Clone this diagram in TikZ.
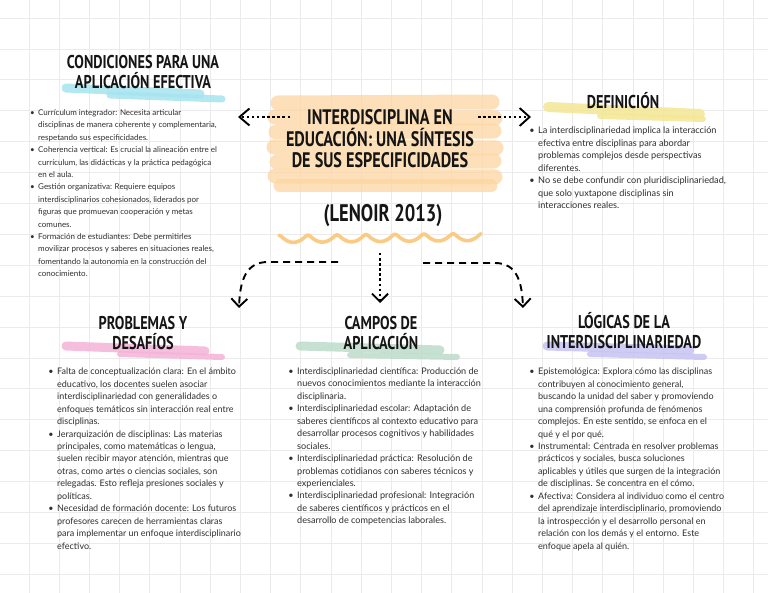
\documentclass[tikz,border=0pt]{standalone}
\usepackage{fontspec}
\usetikzlibrary{arrows.meta}
\setmainfont{Lato}
\newfontfamily\headfont[FakeStretch=0.77]{PT Sans}
\definecolor{gridc}{HTML}{EBEBEB}
\definecolor{bodyc}{HTML}{2F2F2F}
\definecolor{headc}{HTML}{151515}
\definecolor{orbg}{HTML}{FDD6A2}
\definecolor{orwave}{HTML}{FACB85}
\definecolor{bluehl}{HTML}{A6E4EF}
\definecolor{yelhl}{HTML}{F4E795}
\definecolor{pinkhl}{HTML}{F4B3D7}
\definecolor{greenhl}{HTML}{BDDCCA}
\definecolor{purphl}{HTML}{C6C2F3}
\newcommand\bu{\llap{\textbullet\hspace{3.5pt}}}
\begin{document}
\begin{tikzpicture}[x=1pt,y=-1pt,
  head/.style={font=\headfont\bfseries\fontsize{18.5}{20.5}\selectfont, align=center, text=headc, inner sep=0pt},
  titlef/.style={font=\headfont\bfseries\fontsize{21}{21.5}\selectfont, align=center, text=headc, inner sep=0pt},
  body/.style={font=\fontsize{9}{12.45}\selectfont, align=left, text=bodyc, inner sep=0pt, anchor=north west},
  hl/.style={line cap=round, opacity=0.85},
  conn/.style={line width=1.9pt, draw=black, -{Straight Barb[length=8pt,width=16pt]}},
  dotc/.style={conn, dash pattern=on 2.5pt off 2.6pt},
  dashc/.style={conn, dash pattern=on 7pt off 5pt}]
\useasboundingbox (0,0) rectangle (768,593);
\fill[white] (0,0) rectangle (768,593);
% grid
\foreach \k in {0,...,25} {\draw[gridc, line width=0.7pt] ({-1.2+30.2*\k},0) -- ({-1.2+30.2*\k},593);}
\foreach \k in {0,...,18} {\draw[gridc, line width=0.7pt] (0,{18+30.9*\k}) -- (768,{18+30.9*\k});}
% title background strokes
\begin{scope}[orbg, line cap=round, opacity=0.75]
\draw[line width=15pt] (278,103) -- (492,102);
\draw[line width=15pt] (275,117) -- (495,118);
\draw[line width=15pt] (276,132) -- (494,131);
\draw[line width=15pt] (274,147) -- (496,148);
\draw[line width=15pt] (277,162) -- (494,161);
\draw[line width=15pt] (275,176) -- (495,177);
\draw[line width=13pt] (280,186) -- (491,186);
\end{scope}
% wave under Lenoir
\draw[orwave, line width=3.6pt, line cap=round, line join=round]
  plot[domain=0:2500, samples=400, smooth] ({279 + 29/360*\x - 2*sin(\x)}, {239 - 3.5*cos(\x) - 0.0008*\x});
% highlights
\draw[bluehl, hl, line width=9pt] (66,88) -- (200,94);
\draw[bluehl, hl, line width=7pt] (110,95) -- (222,99);
\draw[yelhl, hl, line width=10pt] (548,107) -- (700,114);
\draw[yelhl, hl, line width=6pt] (600,116) -- (703,119);
\draw[pinkhl, hl, line width=9pt] (66,346) -- (205,351);
\draw[pinkhl, hl, line width=6pt] (120,354) -- (222,357);
\draw[greenhl, hl, line width=9pt] (300,346) -- (440,350);
\draw[greenhl, hl, line width=6pt] (350,355) -- (457,357);
\draw[purphl, hl, line width=9pt] (547,346) -- (690,350);
\draw[purphl, hl, line width=6pt] (590,354) -- (704,357);
% headings
\node[titlef, anchor=south] (title) at (380,168) {INTERDISCIPLINA EN\\EDUCACIÓN: UNA SÍNTESIS\\DE SUS ESPECIFICIDADES};
\node[titlef, font=\headfont\bfseries\fontsize{24}{25}\selectfont, anchor=base] (lenoir) at (383,222) {(LENOIR 2013)};
\node[head, anchor=south] (cond) at (143,89) {CONDICIONES PARA UNA\\APLICACIÓN EFECTIVA};
\node[head, anchor=south] (defi) at (623,109) {DEFINICIÓN};
\node[head, anchor=south] (prob) at (143,350) {PROBLEMAS Y\\DESAFÍOS};
\node[head, anchor=south] (camp) at (381,350) {CAMPOS DE\\APLICACIÓN};
\node[head, anchor=south] (logi) at (624,349) {LÓGICAS DE LA\\INTERDISCIPLINARIEDAD};
% bodies
\node[body, font=\fontsize{8}{12.4}\selectfont] (condb) at (38,109.5) {\bu Currículum integrador: Necesita articular\\
disciplinas de manera coherente y complementaria,\\
respetando sus especificidades.\\
\bu Coherencia vertical: Es crucial la alineación entre el\\
currículum, las didácticas y la práctica pedagógica\\
en el aula.\\
\bu Gestión organizativa: Requiere equipos\\
interdisciplinarios cohesionados, liderados por\\
figuras que promuevan cooperación y metas\\
comunes.\\
\bu Formación de estudiantes: Debe permitirles\\
movilizar procesos y saberes en situaciones reales,\\
fomentando la autonomía en la construcción del\\
conocimiento.};
\node[body, font=\fontsize{9.15}{12.45}\selectfont] (defib) at (538,127) {\bu La interdisciplinariedad implica la interacción\\
efectiva entre disciplinas para abordar\\
problemas complejos desde perspectivas\\
diferentes.\\
\bu No se debe confundir con pluridisciplinariedad,\\
que solo yuxtapone disciplinas sin\\
interacciones reales.};
\node[body] (probb) at (57,368) {\bu Falta de conceptualización clara: En el ámbito\\
educativo, los docentes suelen asociar\\
interdisciplinariedad con generalidades o\\
enfoques temáticos sin interacción real entre\\
disciplinas.\\
\bu Jerarquización de disciplinas: Las materias\\
principales, como matemáticas o lengua,\\
suelen recibir mayor atención, mientras que\\
otras, como artes o ciencias sociales, son\\
relegadas. Esto refleja presiones sociales y\\
políticas.\\
\bu Necesidad de formación docente: Los futuros\\
profesores carecen de herramientas claras\\
para implementar un enfoque interdisciplinario\\
efectivo.};
\node[body, font=\fontsize{9.1}{12.45}\selectfont] (campb) at (297,367.5) {\bu Interdisciplinariedad científica: Producción de\\
nuevos conocimientos mediante la interacción\\
disciplinaria.\\
\bu Interdisciplinariedad escolar: Adaptación de\\
saberes científicos al contexto educativo para\\
desarrollar procesos cognitivos y habilidades\\
sociales.\\
\bu Interdisciplinariedad práctica: Resolución de\\
problemas cotidianos con saberes técnicos y\\
experienciales.\\
\bu Interdisciplinariedad profesional: Integración\\
de saberes científicos y prácticos en el\\
desarrollo de competencias laborales.};
\node[body] (logib) at (538,368) {\bu Epistemológica: Explora cómo las disciplinas\\
contribuyen al conocimiento general,\\
buscando la unidad del saber y promoviendo\\
una comprensión profunda de fenómenos\\
complejos. En este sentido, se enfoca en el\\
qué y el por qué.\\
\bu Instrumental: Centrada en resolver problemas\\
prácticos y sociales, busca soluciones\\
aplicables y útiles que surgen de la integración\\
de disciplinas. Se concentra en el cómo.\\
\bu Afectiva: Considera al individuo como el centro\\
del aprendizaje interdisciplinario, promoviendo\\
la introspección y el desarrollo personal en\\
relación con los demás y el entorno. Este\\
enfoque apela al quién.};
% connectors
\coordinate (tl) at (290,117);
\coordinate (cl) at (238,117);
\coordinate (tr) at (478,117);
\coordinate (cr) at (531,117);
\coordinate (bl) at (338,262);
\coordinate (pl) at (239,308);
\coordinate (bc) at (380,253);
\coordinate (pc) at (380,303);
\coordinate (br) at (423,263);
\coordinate (pr) at (523,308);
\draw[dotc, -{Straight Barb[length=10pt,width=17pt]}] (tl) -- (cl);
\draw[dotc, -{Straight Barb[length=10pt,width=18pt]}] (tr) -- (cr);
\draw[dashc] (bl) -- (268,262) .. controls (246,262) and (240,280) .. (pl);
\draw[dotc] (bc) -- (pc);
\draw[dashc] (br) -- (495,263) .. controls (517,263) and (522,282) .. (pr);
\end{tikzpicture}
\end{document}
